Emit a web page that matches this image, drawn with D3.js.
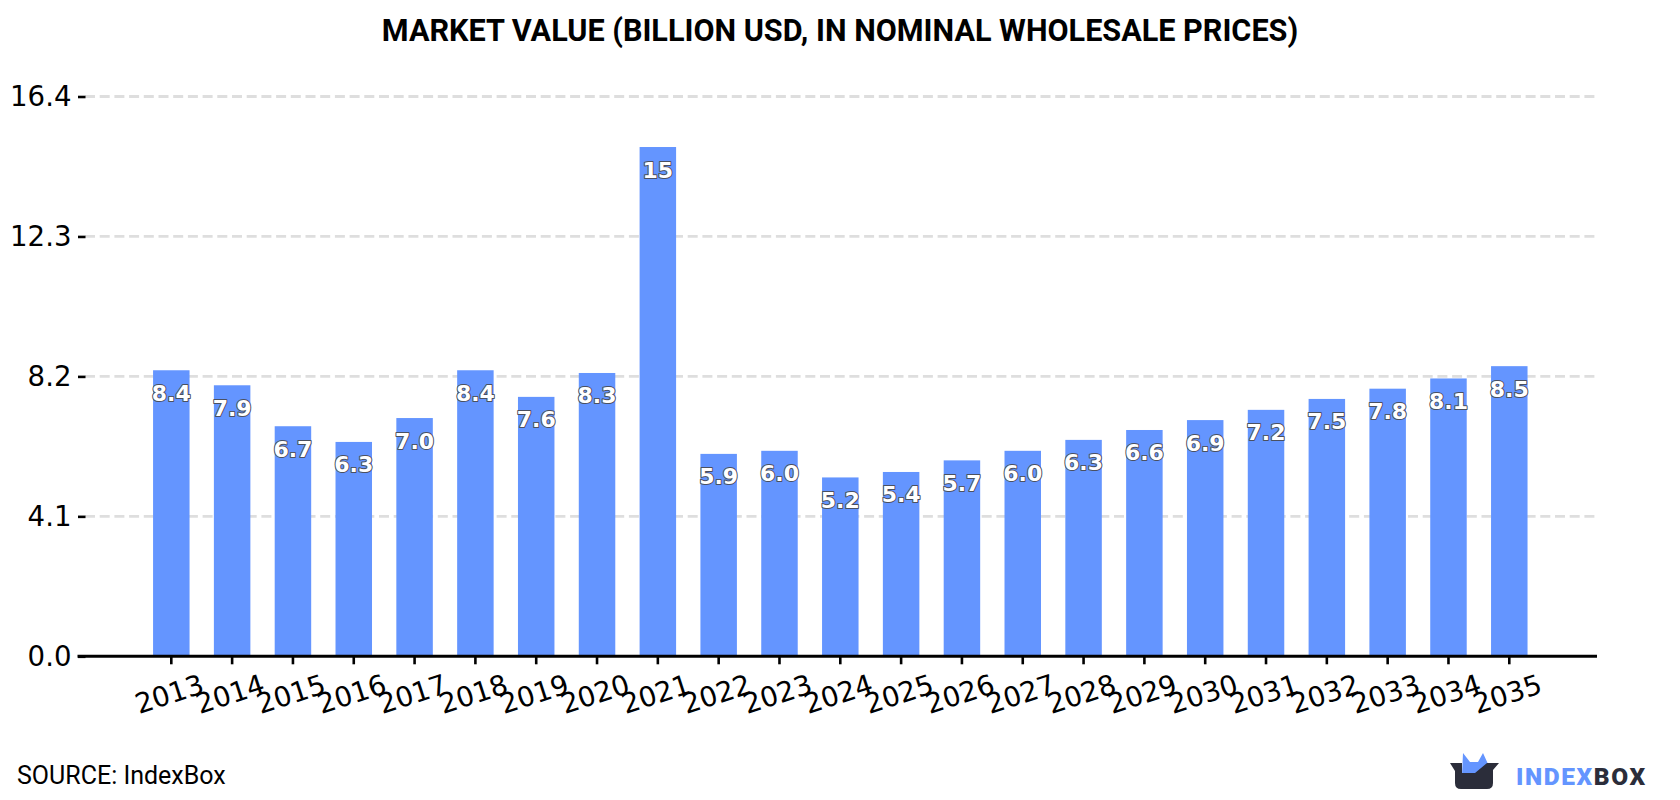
<!DOCTYPE html>
<html>
<head>
<meta charset="utf-8">
<script src="https://cdn.jsdelivr.net/npm/d3@7/dist/d3.min.js"></script>
<style>
html, body { margin: 0; padding: 0; background: #fff; }
svg { display: block; }
</style>
</head>
<body>
<svg id="chart" width="1680" height="800"></svg>
<script>
const titleText = "MARKET VALUE (BILLION USD, IN NOMINAL WHOLESALE PRICES)";
const sourceText = "SOURCE: IndexBox";
const years = ["2013","2014","2015","2016","2017","2018","2019","2020","2021","2022","2023","2024","2025","2026","2027","2028","2029","2030","2031","2032","2033","2034","2035"];
const marketValue = [8.38,7.94,6.74,6.28,6.98,8.38,7.6,8.3,14.92,5.93,6.02,5.24,5.4,5.74,6.02,6.34,6.63,6.92,7.22,7.54,7.84,8.14,8.5];
const yTicks = [0, 4.1, 8.2, 12.3, 16.4];

const svg = d3.select("#chart");
const x = d3.scaleBand().domain(years).range([140.9, 1539.7]).paddingInner(0.4).paddingOuter(0.2);
const y = d3.scaleLinear().domain([0, 16.4]).range([656.3, 96.5]);
const axisLeft = 77.5, axisRight = 1597;

// horizontal dashed grid
svg.append("g").selectAll("line").data(yTicks.slice(1)).join("line")
  .attr("x1", 85).attr("x2", axisRight)
  .attr("y1", d => y(d)).attr("y2", d => y(d))
  .attr("stroke", "#dedede").attr("stroke-width", 2.8)
  .attr("stroke-dasharray", "10,4.7");

// bars
svg.append("g").selectAll("rect").data(years).join("rect")
  .attr("x", d => x(d)).attr("width", x.bandwidth())
  .attr("y", (d, i) => y(marketValue[i]))
  .attr("height", (d, i) => y(0) - y(marketValue[i]))
  .attr("fill", "#6495ff");

// y axis: ticks and labels only
const gy = svg.append("g").attr("transform", `translate(${axisLeft + 8},0)`)
  .call(d3.axisLeft(y).tickValues(yTicks).tickFormat(d3.format(".1f")).tickSize(7.5).tickPadding(6.5));
gy.select(".domain").remove();
gy.selectAll("line").attr("stroke", "#000").attr("stroke-width", 2.6);
gy.selectAll("text").attr("font-family", "'DejaVu Sans'").attr("font-size", 27.6).attr("fill", "#000");

// x axis with rotated year labels
const gx = svg.append("g").attr("transform", `translate(0,${y(0)})`)
  .call(d3.axisBottom(x).tickSize(8).tickPadding(8));
gx.select(".domain").remove();
gx.selectAll("line").attr("stroke", "#000").attr("stroke-width", 2.6);
gx.selectAll("text")
  .attr("font-family", "'DejaVu Sans'").attr("font-size", 27.6).attr("fill", "#000")
  .attr("text-anchor", "middle")
  .attr("transform", "translate(-10,13) rotate(-18)");
svg.append("line").attr("x1", axisLeft).attr("x2", axisRight)
  .attr("y1", y(0)).attr("y2", y(0))
  .attr("stroke", "#000").attr("stroke-width", 3);

// value labels inside the bar tops
const valueLabel = v => v >= 10 ? d3.format(".0f")(v) : d3.format(".1f")(v);
svg.append("g").selectAll("text").data(years).join("text")
  .attr("x", d => x(d) + x.bandwidth() / 2)
  .attr("y", (d, i) => y(marketValue[i]) + 30.5)
  .attr("text-anchor", "middle")
  .attr("font-family", "'DejaVu Sans'").attr("font-weight", "bold").attr("font-size", 22)
  .attr("fill", "#fff").attr("stroke", "#4a5060").attr("stroke-width", 2)
  .attr("paint-order", "stroke").attr("stroke-linejoin", "round")
  .text((d, i) => valueLabel(marketValue[i]));

// title and source
svg.append("text").attr("x", 840).attr("y", 41).attr("text-anchor", "middle")
  .attr("font-family", "Roboto").attr("font-weight", "bold").attr("font-size", 30.6)
  .attr("fill", "#000").text(titleText);
svg.append("text").attr("x", 17).attr("y", 784)
  .attr("font-family", "Roboto").attr("font-size", 25)
  .attr("fill", "#000").text(sourceText);

// IndexBox wordmark with its box icon
const logo = svg.append("g");
logo.append("path").attr("d", "M1462,775 L1463,753 L1470,762 L1478,762 L1483,753 L1488,764 L1476,775 Z").attr("fill", "#6495ff");
logo.append("path").attr("d", "M1450,763 L1462,763 L1462,773 L1475,773 L1487,763 L1499,763 L1493,770 L1493,783 Q1493,789 1487,789 L1461,789 Q1455,789 1455,783 L1455,771 Z").attr("fill", "#2b2d3a");
const word = logo.append("text").attr("x", 1516).attr("y", 785)
  .attr("font-family", "Roboto").attr("font-weight", "900").attr("font-size", 24.5).attr("letter-spacing", 1.6);
word.append("tspan").attr("fill", "#6495ff").text("INDEX");
word.append("tspan").attr("fill", "#2b2d3a").text("BOX");
</script>
</body>
</html>
